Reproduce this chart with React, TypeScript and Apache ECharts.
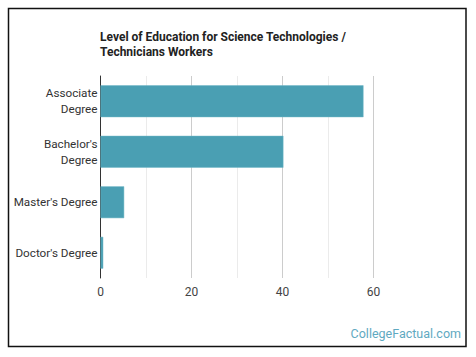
import React, { useEffect, useRef } from "react";
import * as echarts from "echarts";

const categories = ["Associate\nDegree", "Bachelor's\nDegree", "Master's Degree", "Doctor's Degree"];
const values = [57.8, 40.2, 5.2, 0.6];
const titleText = "Level of Education for Science Technologies /\nTechnicians Workers";
const watermark = "CollegeFactual.com";

export default function App() {
  const ref = useRef<HTMLDivElement>(null);
  useEffect(() => {
    if (!ref.current) return;
    const chart = echarts.init(ref.current, undefined, { renderer: "svg" });
    chart.setOption({
      animation: false,
      textStyle: { fontFamily: "Roboto" },
      title: {
        text: titleText,
        left: 95,
        top: 24,
        textStyle: { fontFamily: "Roboto", fontSize: 12, fontWeight: "bold", color: "#222", lineHeight: 15 },
      },
      graphic: [
        {
          type: "rect",
          shape: { x: 8.5, y: 8.5, width: 457.5, height: 338 },
          style: { fill: "none", stroke: "#111", lineWidth: 1.5 },
          silent: true,
          z: -1,
        },
        {
          type: "text",
          right: 15,
          top: 327,
          style: { text: watermark, fill: "#5fa9c1", font: "12.5px Roboto" },
        },
      ],
      grid: { left: 100.5, right: 102.5, top: 76, bottom: 79, containLabel: false },
      xAxis: {
        type: "value",
        min: 0,
        max: 60,
        interval: 10,
        axisLine: { show: false },
        axisTick: { show: false },
        axisLabel: {
          color: "#444",
          fontSize: 12,
          margin: 8,
          formatter: (v: number) => (v % 20 === 0 ? String(v) : ""),
        },
        splitLine: { show: true, lineStyle: { color: ["#cccccc", "#ebebeb"], width: 1 } },
      },
      yAxis: {
        type: "category",
        data: categories,
        inverse: true,
        axisLine: { show: true, lineStyle: { color: "#333", width: 1 } },
        axisTick: { show: false },
        axisLabel: { color: "#333", fontSize: 11.7, lineHeight: 16, margin: 3, align: "right" },
      },
      series: [
        {
          type: "bar",
          data: values,
          barCategoryGap: "37%",
          itemStyle: { color: "#4a9fb3", borderColor: "#6fb6c6", borderWidth: 0.5 },
        },
      ],
    });
    return () => chart.dispose();
  }, []);
  return <div ref={ref} style={{ position: "absolute", left: 0, top: 0, width: 476, height: 357 }} />;
}
